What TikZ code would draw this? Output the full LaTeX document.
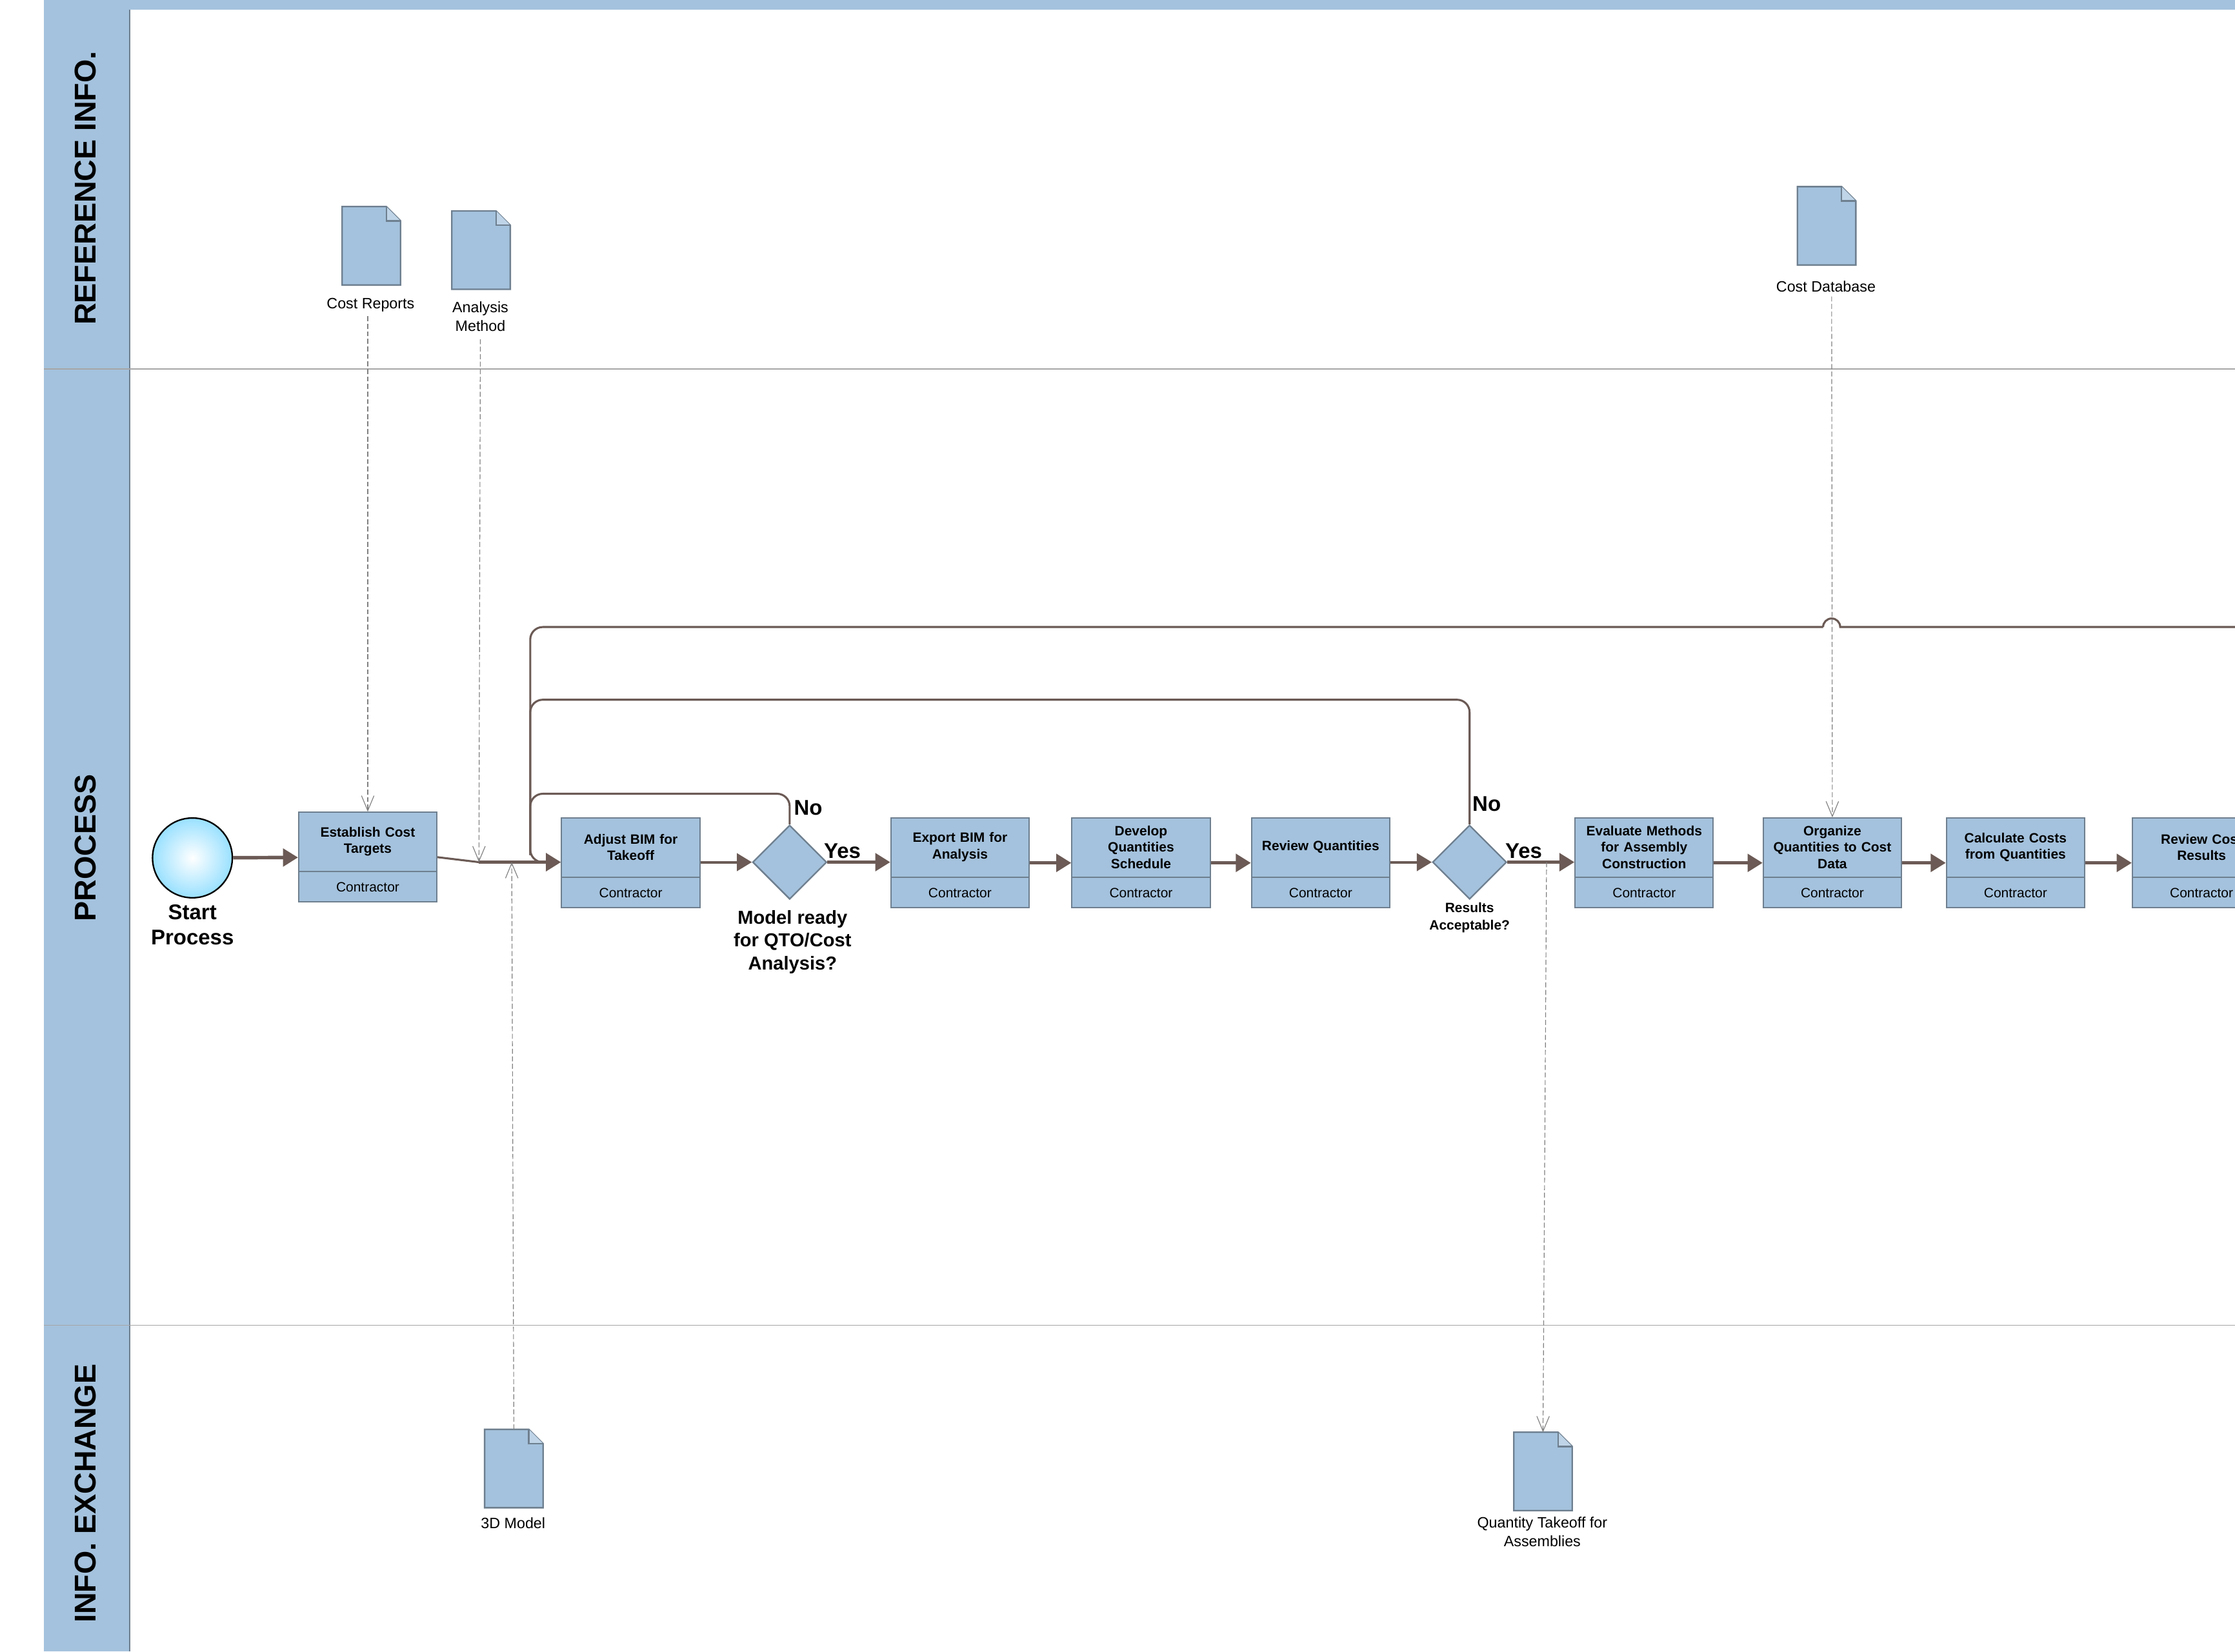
\documentclass[tikz,border=0pt]{standalone}
\usepackage{fontspec}
\setmainfont{Liberation Sans}
\usetikzlibrary{arrows.meta,shapes.geometric}
\definecolor{lane}{HTML}{A4C2DD}
\definecolor{bord}{HTML}{6E7F8F}
\definecolor{flow}{HTML}{6B5A55}
\tikzset{
 procbox/.style={draw=bord,fill=lane,line width=0.5pt,minimum width=1.94cm,minimum height=1.26cm,inner sep=0pt},
 ptxt/.style={font=\fontsize{5.4}{6.6}\selectfont\bfseries,align=center,text width=1.9cm},
 rtxt/.style={font=\fontsize{5.4}{6.6}\selectfont,align=center},
 flowarr/.style={draw=flow,line width=1.4pt,-{Triangle[length=6pt,width=7pt]}},
 loopln/.style={draw=flow,line width=0.8pt,rounded corners=5pt},
 dashln/.style={draw=gray,line width=0.3pt,dash pattern=on 2pt off 1pt,-{Straight Barb[length=6pt,width=5pt]}},
 dlabel/.style={font=\fontsize{6}{7.4}\selectfont,align=center},
 dia/.style={diamond,draw=bord,fill=lane,line width=0.6pt,minimum width=1.04cm,minimum height=1.04cm,inner sep=0pt},
 lanelbl/.style={font=\fontsize{12}{12}\selectfont\bfseries,rotate=90},
}
\newcommand{\docshape}[3]{%
 \fill[lane,draw=bord,line width=0.6pt] (#2,#3)--++(31,0)--++(10,10)--++(0,45)--++(-41,0)--cycle;
 \draw[bord,line width=0.6pt,fill=lane!70!white] (#2+31,#3)--++(0,10)--++(10,0);
 \coordinate (#1) at (#2+20.5,#3+28);
 \coordinate (#1t) at (#2+20.5,#3);
 \coordinate (#1b) at (#2+20.5,#3+55);}
\begin{document}
\begin{tikzpicture}[x=0.02cm,y=-0.02cm]
\useasboundingbox (0,0) rectangle (1568,1159);
% lanes
\fill[lane] (31,0) rectangle (1568,7);
\fill[lane] (31,0) rectangle (91,1159);
\draw[bord,line width=0.4pt] (91,7)--(91,1159);
\draw[gray!70,line width=0.4pt] (31,259)--(1568,259);
\draw[gray!70,line width=0.4pt] (31,930)--(1568,930);
\node[lanelbl] (l1) at (60,132) {REFERENCE INFO.};
\node[lanelbl] (l2) at (60,595) {PROCESS};
\node[lanelbl] (l3) at (60,1048) {INFO. EXCHANGE};
% documents
\docshape{cr}{240}{145}
\node[dlabel] (crl) at (260,214) {Cost Reports};
\docshape{am}{317}{148}
\node[dlabel] (aml) at (337,222) {Analysis\\Method};
\docshape{cd}{1261}{131}
\node[dlabel] (cdl) at (1281,201) {Cost Database};
\docshape{tm}{340}{1003}
\node[dlabel] (tml) at (360,1069) {3D Model};
\docshape{qt}{1062}{1005}
\node[dlabel] (qtl) at (1082,1075) {Quantity Takeoff for\\Assemblies};
% start
\node[circle,draw=black,line width=0.6pt,minimum size=1.12cm,inner sep=0pt,
  inner color=white,outer color=blue!30!cyan!40!white] (st) at (135,602) {};
\node[font=\fontsize{8.5}{10}\selectfont\bfseries,align=center] (stl) at (135,649) {Start\\Process};
% process boxes
\newcommand{\proc}[4]{%
 \node[procbox] (#1) at (#2,#3) {};
 \draw[bord,line width=0.5pt] (#2-48.5,#3+10)--(#2+48.5,#3+10);
 \node[ptxt] (#1x) at (#2,#3-11) {#4};
 \node[rtxt] (#1r) at (#2,#3+21) {Contractor};}
\proc{p1}{258}{601.5}{Establish Cost\\Targets}
\proc{p2}{442.5}{605.5}{Adjust BIM for\\Takeoff}
\proc{p3}{673.5}{605.5}{Export BIM for\\Analysis}
\proc{p4}{800.5}{605.5}{Develop\\Quantities\\Schedule}
\proc{p5}{926.5}{605.5}{Review Quantities}
\proc{p6}{1153.5}{605.5}{Evaluate Methods\\for Assembly\\Construction}
\proc{p7}{1285.5}{605.5}{Organize\\Quantities to Cost\\Data}
\proc{p8}{1414}{605.5}{Calculate Costs\\from Quantities}
\proc{p9}{1544.5}{605.5}{Review Cost\\Results}
% diamonds
\node[dia] (d1) at (554,605) {};
\node[font=\fontsize{7.5}{9.2}\selectfont\bfseries,align=center] (d1l) at (556,661) {Model ready\\for QTO/Cost\\Analysis?};
\node[dia] (d2) at (1031,605) {};
\node[font=\fontsize{5.4}{6.8}\selectfont\bfseries,align=center] (d2l) at (1031,644) {Results\\Acceptable?};
\node[font=\fontsize{8.5}{9}\selectfont\bfseries] (n1) at (567,567) {No};
\node[font=\fontsize{8.5}{9}\selectfont\bfseries] (y1) at (591,597) {Yes};
\node[font=\fontsize{8.5}{9}\selectfont\bfseries] (n2) at (1043,564) {No};
\node[font=\fontsize{8.5}{9}\selectfont\bfseries] (y2) at (1069,597) {Yes};
% flow
\coordinate (j1) at (336,605);
\draw[flowarr] (st) -- (p1);
\draw[draw=flow,line width=0.8pt] (p1.east) -- (j1);
\draw[flowarr] (j1) -- (p2.west|-j1);
\draw[flowarr,line width=1pt] (p2.east|-d1) -- (d1.west);
\draw[flowarr] (d1.east) -- (p3.west|-d1);
\draw[flowarr] (p3) -- (p4);
\draw[flowarr] (p4) -- (p5);
\draw[flowarr,line width=1pt] (p5.east|-d2) -- (d2.west);
\draw[flowarr] (d2.east) -- (p6.west|-d2);
\draw[flowarr] (p6) -- (p7);
\draw[flowarr] (p7) -- (p8);
\draw[flowarr] (p8) -- (p9);
% loops
\draw[loopln] (d1.north) -- (554,557) -- (372,557) -- (372,605) -- (380,605);
\draw[loopln] (d2.north) -- (1031,491) -- (372,491) -- (372,600);
\coordinate (h1) at (1291,440);
\coordinate (h2) at (1279,440);
\draw[draw=flow,line width=0.8pt] (1568,440) -- (h1) arc (0:-180:6);
\draw[loopln] (h2) -- (372,440) -- (372,600);
% dashed
\draw[dashln] (258,222) -- (p1.north);
\draw[dashln] (337,238) -- (j1);
\draw[dashln] (tmt) -- (359,605);
\draw[dashln] (1285,208) -- (p7.north);
\draw[dashln] (1085,605) -- (qtt);
\end{tikzpicture}
\end{document}
